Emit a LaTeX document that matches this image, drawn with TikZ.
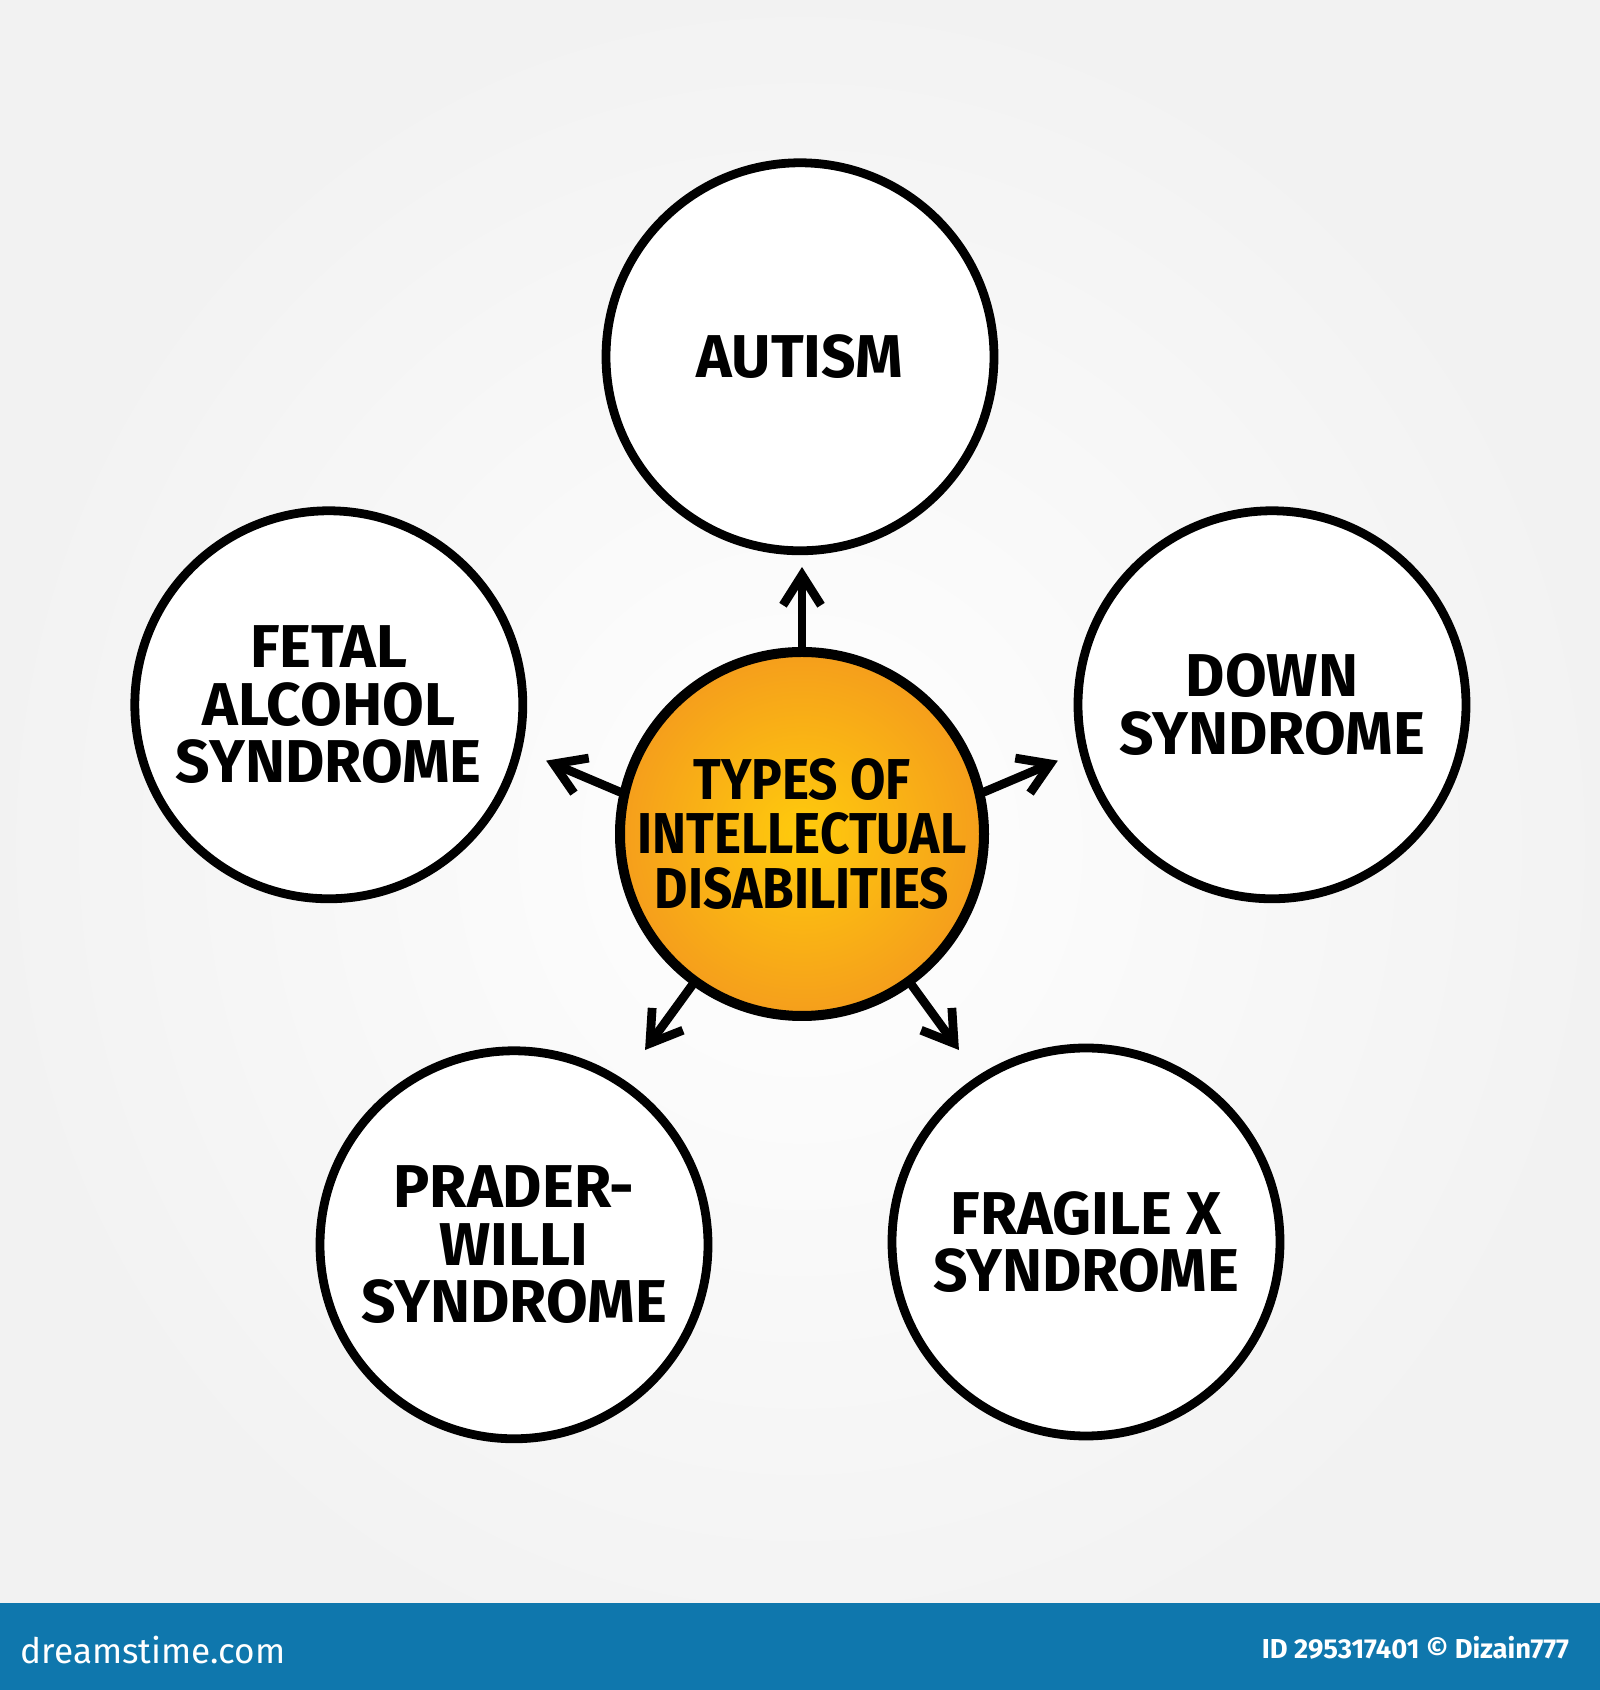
\documentclass[tikz,border=0pt]{standalone}
\usepackage{fontspec}
\setmainfont{Fira Sans}
\newfontfamily\hubfont{Fira Sans}[FakeStretch=0.89]
\usetikzlibrary{arrows.meta}
\definecolor{hubyellow}{HTML}{FFCB0C}
\definecolor{huborange}{HTML}{F59E1C}
\definecolor{barblue}{HTML}{0F77AD}
\tikzset{
	kind/.style={circle, draw=black, line width=0.22cm, fill=white, minimum size=9.7cm, align=center, font=\bfseries\fontsize{43}{41}\selectfont},
	hub/.style={circle, draw=black, line width=0.25cm, inner color=hubyellow, outer color=huborange, minimum size=9.1cm, inner sep=0pt, align=center, font=\hubfont\bfseries\fontsize{41}{39}\selectfont},
	spoke/.style={line width=0.22cm, line cap=round, -{Straight Barb[length=0.75cm,width=0.95cm]}}
}

\begin{document}
\begin{tikzpicture}
	\useasboundingbox (0,0) rectangle (40,42.25);
	\shade[inner color=white, outer color=black!5] (0,0) rectangle (40,42.25);

	% bottom bar
	\fill[barblue] (0,0) rectangle (40,2.175);
	\node[anchor=west, text=white, font=\fontsize{25}{25}\selectfont] (site) at (0.4,1.0) {dreamstime.com};
	\node[anchor=east, text=white, font=\bfseries\fontsize{19.5}{19.5}\selectfont] (credit) at (39.35,1.05) {ID 295317401 © Dizain777};

	\node[hub] (types) at (20.05,21.4) {TYPES OF\\INTELLECTUAL\\DISABILITIES};

	\node[kind] (autism) at (20,33.33) {AUTISM};
	\node[kind] (down) at (31.8,24.63) {DOWN\\SYNDROME};
	\node[kind] (fetal) at (8.22,24.63) {FETAL\\ALCOHOL\\SYNDROME};
	\node[kind] (prader) at (12.85,11.13) {PRADER-\\WILLI\\SYNDROME};
	\node[kind] (fragile) at (27.15,11.2) {FRAGILE X\\SYNDROME};

	\foreach \from/\dir in {90/90, 13/23, 167/157, 234/234, 306/306}
	{
		\path (types.\from) ++(\dir:2cm) coordinate (tip\from);
		\draw[spoke] (types.\from) -- (tip\from);
	}
\end{tikzpicture}
\end{document}
